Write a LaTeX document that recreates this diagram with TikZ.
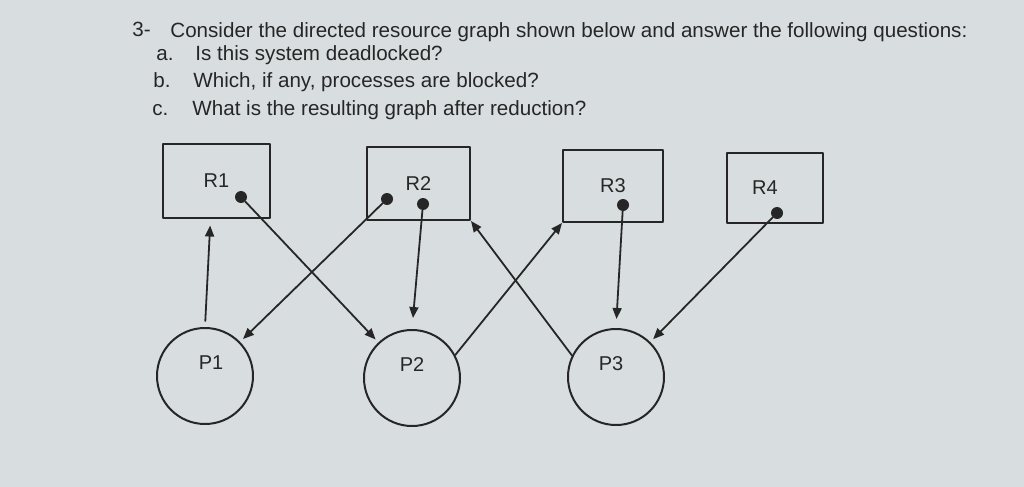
\documentclass[tikz,border=0pt]{standalone}
\usepackage{fontspec}
\setmainfont{Liberation Sans}
\usetikzlibrary{arrows.meta}
\definecolor{paper}{RGB}{216,222,224}
\definecolor{ink}{RGB}{38,38,38}
\begin{document}
\begin{tikzpicture}[x=0.5pt, y=-0.5pt, line join=round, line cap=round,
    txt/.style={anchor=base west, inner sep=0pt, text=ink, font=\fontsize{10.3}{12}\selectfont},
    res/.style={draw=ink, line width=1pt, inner sep=0pt, text=ink, font=\fontsize{10}{12}\selectfont},
    proc/.style={circle, draw=ink, line width=1pt, minimum size=48pt, inner sep=0pt},
    dot/.style={circle, fill=ink, minimum size=6pt, inner sep=0pt},
    edge/.style={draw=ink, line width=0.9pt, -{Triangle[length=5.5pt, width=4.5pt]}}]
  \fill[paper] (0,0) rectangle (1024,487);
  \useasboundingbox (0,0) rectangle (1024,487);
  % question text
  \node[txt] (qn) at (132,36) {3-};
  \node[txt] (q0) at (170,37) {Consider the directed resource graph shown below and answer the following questions:};
  \node[txt] (la) at (156,61) {a.};
  \node[txt] (qa) at (195,61) {Is this system deadlocked?};
  \node[txt] (lb) at (153,87) {b.};
  \node[txt] (qb) at (193,87) {Which, if any, processes are blocked?};
  \node[txt] (lc) at (152,115) {c.};
  \node[txt] (qc) at (192,115) {What is the resulting graph after reduction?};
  % resources
  \node[res, minimum width=53.5pt, minimum height=37pt] (R1) at (216.5,180.5) {R1};
  \node[res, minimum width=51.5pt, minimum height=36.5pt] (R2) at (418.5,183.5) {R2};
  \node[res, minimum width=50pt, minimum height=36pt] (R3) at (613,186) {R3};
  \node[res, minimum width=48pt, minimum height=35pt] (R4) at (775,188) {\hspace*{-10pt}R4};
  \node[dot] (d1) at (241,197) {};
  \node[dot] (d2a) at (387,199) {};
  \node[dot] (d2b) at (423,204) {};
  \node[dot] (d3) at (623,205) {};
  \node[dot] (d4) at (777,213) {};
  % processes
  \node[proc, label={[text=ink, font=\fontsize{10}{12}\selectfont, xshift=3pt, yshift=6.5pt]center:P1}] (P1) at (205,376) {};
  \node[proc, label={[text=ink, font=\fontsize{10}{12}\selectfont, yshift=6.5pt]center:P2}] (P2) at (412,378) {};
  \node[proc, label={[text=ink, font=\fontsize{10}{12}\selectfont, xshift=-2.5pt, yshift=6.5pt]center:P3}] (P3) at (616,377) {};
  % edges
  \draw[edge, shorten <=3pt, shorten >=3.5pt] (P1.north) -- ([xshift=-3pt]R1.south);
  \draw[edge, shorten >=2pt] (d1) -- (P2);
  \draw[edge, shorten >=2pt] (d2a) -- (P1);
  \draw[edge, shorten >=5.5pt] (d2b) -- (P2.north);
  \draw[edge] (P2.28) -- (R3.south west);
  \draw[edge] (P3.154) -- (R2.south east);
  \draw[edge, shorten >=4.5pt] (d3) -- (P3.north);
  \draw[edge, shorten >=2pt] (d4) -- (P3);
\end{tikzpicture}
\end{document}
